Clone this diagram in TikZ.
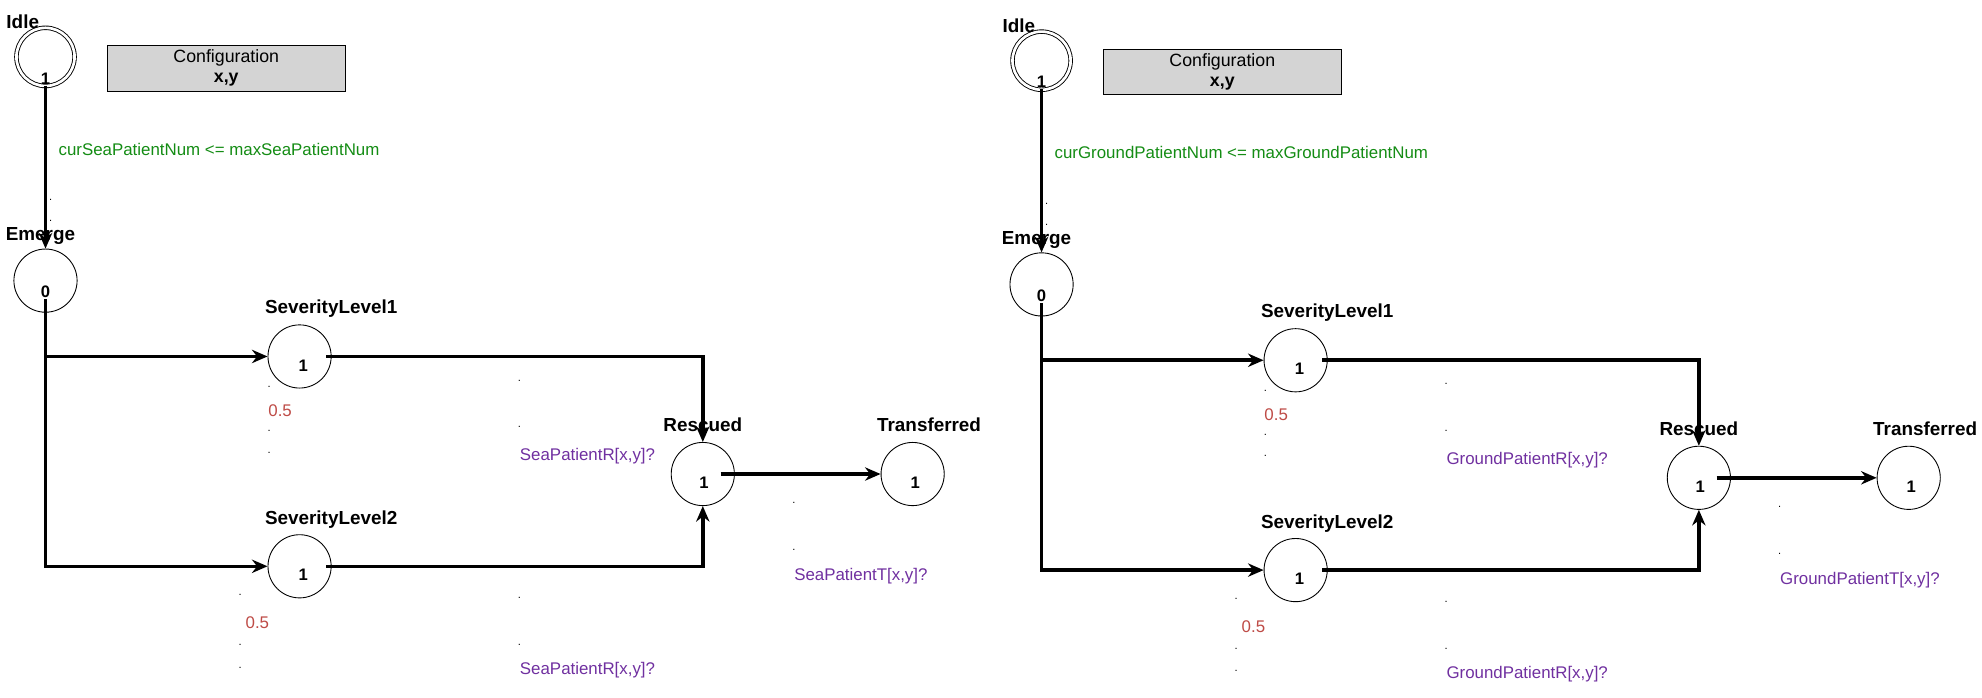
\documentclass[tikz,border=0pt]{standalone}
\usepackage{fontspec}
\setmainfont{Liberation Sans}
\usetikzlibrary{arrows.meta}
\definecolor{guard}{RGB}{20,140,20}
\definecolor{prob}{RGB}{190,75,70}
\definecolor{sync}{RGB}{112,48,160}
\tikzset{
  loc/.style={draw, circle, minimum size=1cm, inner sep=0pt},
  init/.style={loc, double, double distance=1.2pt, minimum size=0.92cm},
  locname/.style={font=\fontsize{8.5}{9}\selectfont\bfseries, inner sep=0pt},
  tok/.style={font=\fontsize{7.5}{8}\selectfont\bfseries, inner sep=0.5pt},
  lbl/.style={font=\fontsize{7.6}{9}\selectfont, inner sep=0pt, anchor=west},
  dot/.style={font=\tiny, inner sep=0pt},
  conn/.style={line width=1.6pt, -{Stealth[length=7pt,width=6pt]}},
  conf/.style={draw, fill=black!17, minimum width=3.76cm, minimum height=0.72cm,
    font=\fontsize{8}{9}\selectfont, align=center, inner sep=0pt}
}
\newcommand{\panel}[6]{% prefix, x shift, y shift, name, R label x, T label x
\begin{scope}[shift={(#2,#3)}]
  \node[init] (#1idle) at (36,45) {};
  \node[locname] (#1idlel) at (18,17) {Idle};
  \node[tok] (#1idlet) at (36,62) {1};
  \node[conf] (#1conf) at (179,54) {Configuration\\\textbf{x,y}};
  \node[lbl, text=guard] (#1g) at (46,118) {cur#4PatientNum <= max#4PatientNum};
  \node[dot] (#1d1) at (40,158) {.};
  \node[dot] (#1d2) at (40,175) {.};
  \node[loc] (#1em) at (36,222) {};
  \node[locname] (#1eml) at (32,187) {Emerge};
  \node[tok] (#1emt) at (36,231) {0};
  \node[loc] (#1s1) at (237,282) {};
  \node[locname] (#1s1l) at (262,244) {SeverityLevel1};
  \node[tok] (#1s1t) at (240,289) {1};
  \coordinate (#1s1o) at (258,282);
  \node[loc] (#1s2) at (237,448) {};
  \node[locname] (#1s2l) at (262,411) {SeverityLevel2};
  \node[tok] (#1s2t) at (240,455) {1};
  \coordinate (#1s2o) at (258,448);
  \node[loc] (#1re) at (556,375) {};
  \node[locname] (#1rel) at (556,336) {Rescued};
  \node[tok] (#1ret) at (557,382) {1};
  \coordinate (#1reo) at (570,375);
  \node[loc] (#1tr) at (722,375) {};
  \node[locname] (#1trl) at (735,336) {Transferred};
  \node[tok] (#1trt) at (724,382) {1};
  % probabilities and dots
  \node[dot] at (213,306) {.};
  \node[lbl, text=prob] at (212,325) {0.5};
  \node[dot] at (213,341) {.};
  \node[dot] at (213,358) {.};
  \node[dot] at (190,471) {.};
  \node[lbl, text=prob] at (194,493) {0.5};
  \node[dot] at (190,510) {.};
  \node[dot] at (190,528) {.};
  \node[dot] at (#5,301) {.};
  \node[dot] at (#5,338) {.};
  \node[lbl, text=sync] at (#5,361) {#4PatientR[x,y]?};
  \node[dot] at (#5,473) {.};
  \node[dot] at (#5,510) {.};
  \node[lbl, text=sync] at (#5,530) {#4PatientR[x,y]?};
  \node[dot] at (#6,398) {.};
  \node[dot] at (#6,435) {.};
  \node[lbl, text=sync] at (#6,456) {#4PatientT[x,y]?};
  % connectors
  \draw[conn] (#1idlet.south) -- (#1em.north);
  \draw[conn] (#1emt.south) |- (#1s1.west);
  \draw[conn] (#1emt.south) |- (#1s2.west);
  \draw[conn] (#1s1o) -| (#1re.north);
  \draw[conn] (#1s2o) -| (#1re.south);
  \draw[conn] (#1reo) -- (#1tr.west);
\end{scope}}
\begin{document}
\begin{tikzpicture}[x=0.02cm, y=-0.02cm]
\useasboundingbox (0,0) rectangle (1568,552);
\panel{a}{0}{0}{Sea}{411}{628}
\panel{b}{788}{3}{Ground}{356}{620}
\end{tikzpicture}
\end{document}
